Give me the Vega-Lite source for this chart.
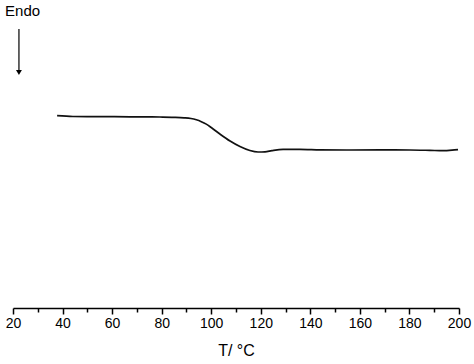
{
  "$schema": "https://vega.github.io/schema/vega-lite/v6.json",
  "width": 446,
  "height": 308,
  "autosize": "none",
  "padding": {"left": 13, "top": 0, "right": 15, "bottom": 56},
  "background": "white",
  "config": {
    "view": {"stroke": null},
    "axis": {
      "grid": false,
      "domainColor": "#000000",
      "domainWidth": 1.5,
      "tickColor": "#000000",
      "tickWidth": 1.5,
      "labelFont": "Liberation Sans",
      "labelFontSize": 14,
      "labelColor": "#000000",
      "titleFont": "Liberation Sans",
      "titleFontSize": 16,
      "titleFontWeight": "normal",
      "titleColor": "#000000"
    }
  },
  "datasets": {
    "curve": [
      {"T": 37.8, "v": 6.244},
      {"T": 44.2, "v": 6.218},
      {"T": 55.1, "v": 6.214},
      {"T": 67.2, "v": 6.208},
      {"T": 79.3, "v": 6.201},
      {"T": 85.0, "v": 6.192},
      {"T": 89.0, "v": 6.176},
      {"T": 91.8, "v": 6.152},
      {"T": 94.0, "v": 6.11},
      {"T": 96.0, "v": 6.05},
      {"T": 98.0, "v": 5.97},
      {"T": 100.0, "v": 5.86},
      {"T": 103.5, "v": 5.649},
      {"T": 107.6, "v": 5.422},
      {"T": 111.6, "v": 5.244},
      {"T": 115.6, "v": 5.114},
      {"T": 118.9, "v": 5.065},
      {"T": 121.7, "v": 5.071},
      {"T": 124.5, "v": 5.11},
      {"T": 129.0, "v": 5.15},
      {"T": 135.8, "v": 5.15},
      {"T": 143.9, "v": 5.136},
      {"T": 156.0, "v": 5.13},
      {"T": 168.1, "v": 5.132},
      {"T": 180.2, "v": 5.13},
      {"T": 188.3, "v": 5.118},
      {"T": 193.5, "v": 5.108},
      {"T": 197.2, "v": 5.125},
      {"T": 199.6, "v": 5.145}
    ],
    "label": [{"T": 16.8, "v": 9.48, "txt": "Endo"}],
    "arrow": [{"T": 22.4, "v": 9.058, "v2": 7.727}],
    "head": [{"T": 22.4, "v": 7.646}]
  },
  "encoding": {
    "x": {
      "field": "T",
      "type": "quantitative",
      "scale": {"domain": [20, 200], "nice": false, "zero": false},
      "axis": {
        "title": "T/ °C",
        "values": [20, 30, 40, 50, 60, 70, 80, 90, 100, 110, 120, 130, 140, 150, 160, 170, 180, 190, 200],
        "labelExpr": "datum.value % 20 === 0 ? datum.label : ''",
        "labelFlush": false,
        "labelOverlap": false,
        "tickSize": {"condition": {"test": "datum.value % 20 === 0", "value": 6}, "value": 4},
        "labelPadding": 2,
        "titlePadding": 12
      }
    },
    "y": {
      "field": "v",
      "type": "quantitative",
      "scale": {"domain": [0, 10], "nice": false, "zero": false},
      "axis": null
    }
  },
  "layer": [
    {
      "data": {"name": "curve"},
      "mark": {"type": "line", "color": "#111111", "strokeWidth": 1.7, "interpolate": "monotone"}
    },
    {
      "data": {"name": "label"},
      "mark": {"type": "text", "font": "Liberation Sans", "fontSize": 15, "align": "left", "baseline": "alphabetic", "color": "#000000"},
      "encoding": {"text": {"field": "txt"}}
    },
    {
      "data": {"name": "arrow"},
      "mark": {"type": "rule", "color": "#000000", "strokeWidth": 1.2},
      "encoding": {"y2": {"field": "v2"}}
    },
    {
      "data": {"name": "head"},
      "mark": {"type": "point", "shape": "triangle-down", "filled": true, "color": "#000000", "size": 35, "opacity": 1}
    }
  ]
}
